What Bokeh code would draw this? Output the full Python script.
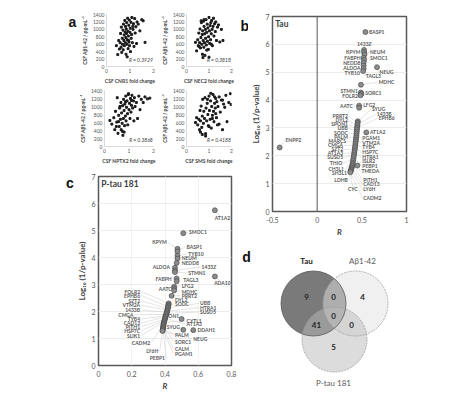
from bokeh.plotting import figure
from bokeh.layouts import row, column
from bokeh.models import Span, ColumnDataSource, FixedTicker
from bokeh.core.properties import value, field
from bokeh.embed import file_html
from bokeh.resources import INLINE

# ---------------- DATA ----------------
# panel a : four scatter plots (CSF Abeta1-42 vs protein fold change)
a_xlabels = ["CSF CNR1 fold change", "CSF NEC2 fold change",
             "CSF NPTX2 fold change", "CSF SMS fold change"]
a_rtexts = ["R = 0.3929", "R = 0.3818", "R = 0.3868", "R = 0.4188"]
a_ylabel = "CSF Aβ1-42 / pg·mL⁻¹"
a_xticks = [0, 1, 2]
a_yticks = [0, 200, 400, 600, 800, 1000, 1200, 1400]

cnr1_x = [0.42,0.48,0.52,0.55,0.58,0.6,0.62,0.63,0.65,0.67,0.68,0.7,0.71,0.72,0.74,0.75,0.76,0.78,0.79,0.8,
          0.81,0.82,0.83,0.84,0.85,0.86,0.87,0.88,0.9,0.91,0.92,0.93,0.95,0.96,0.97,0.98,1.0,1.01,1.02,1.04,
          1.05,1.07,1.08,1.1,1.12,1.13,1.15,1.17,1.2,1.22,1.25,1.28,1.3,1.35,1.42,1.5,1.56,1.64,0.88,0.94]
cnr1_y = [560,320,700,470,640,890,520,1060,380,760,600,980,450,1140,700,850,560,1240,930,640,
          1080,780,330,1010,890,1180,600,720,1300,950,480,820,1110,660,1250,560,920,1030,400,1190,
          760,860,1320,640,1080,1000,1150,540,1290,900,1070,620,1200,1140,960,1260,1230,650,260,700]

nec2_x = [0.4,0.45,0.5,0.52,0.55,0.58,0.6,0.62,0.64,0.66,0.68,0.7,0.71,0.72,0.74,0.75,0.77,0.78,0.8,0.81,
          0.82,0.84,0.85,0.87,0.88,0.9,0.92,0.93,0.95,0.97,0.98,1.0,1.02,1.03,1.05,1.07,1.08,1.1,1.12,1.14,
          1.15,1.18,1.2,1.22,1.25,1.28,1.3,1.33,1.38,1.42,1.48,1.55,1.62,0.65,0.78,0.9,1.0,1.1,0.56,0.73]
nec2_y = [650,420,720,560,900,640,1010,500,780,1180,600,860,330,960,700,1220,520,1080,640,880,
          300,1000,760,1260,580,920,1140,680,1040,460,800,1320,960,620,1100,720,1180,880,1240,1000,
          560,1080,1300,820,1150,940,1200,700,1060,1120,660,1000,700,1230,1260,440,250,600,540,240]

nptx2_x = [0.22,0.3,0.38,0.42,0.45,0.5,0.52,0.55,0.58,0.6,0.62,0.65,0.67,0.68,0.7,0.72,0.74,0.75,0.77,0.78,
           0.8,0.82,0.83,0.85,0.87,0.88,0.9,0.92,0.94,0.95,0.97,1.0,1.02,1.04,1.06,1.08,1.1,1.12,1.15,1.18,
           1.2,1.22,1.25,1.3,1.35,1.4,1.45,1.5,1.58,1.65,1.75,1.85,0.48,0.63,0.73,0.86,0.98,1.1,0.57,0.8]
nptx2_y = [650,560,720,420,880,610,1220,330,780,500,960,680,1100,420,840,580,1020,280,700,1180,
           900,520,1060,760,1260,640,980,1140,820,540,1300,920,1080,700,1200,860,1030,1280,960,1140,
           640,1220,1000,1100,700,1260,920,1180,1100,1240,1190,1210,500,1000,380,1120,1320,1150,620,360]

sms_x = [0.4,0.45,0.5,0.55,0.58,0.6,0.62,0.65,0.68,0.7,0.72,0.75,0.77,0.8,0.82,0.85,0.87,0.9,0.92,0.95,
         0.97,1.0,1.02,1.05,1.07,1.1,1.12,1.15,1.18,1.2,1.22,1.25,1.28,1.3,1.33,1.35,1.38,1.4,1.45,1.5,
         1.55,1.6,1.65,1.7,1.75,1.8,1.88,1.95,1.98,0.7,0.85,1.0,1.15,1.3,1.45,0.62,0.93,1.08,1.25,1.6]
sms_y = [600,720,540,680,420,900,640,1010,480,760,1180,580,880,700,1220,320,960,640,1080,800,
         520,1260,900,680,1140,460,1000,780,1300,880,620,1080,960,1200,720,1120,540,1000,1240,860,
         1160,420,1060,980,1280,620,1100,1320,1050,300,260,500,700,820,560,360,1180,1330,1240,1160]

# panel b : Tau
tau_genes = ["BASP1","1433Z","KPYM","NEUM","FABPH","SMOC1","NEDD8","ALDOA","TAGL3","TYB10",
             "NEUG","MDHC","STMN1","SORC1","FOLR2","AATC","LFG2","SYUG","PRRT2","1433B",
             "DYL2","EPHB6","SPON1","UBB","SODC","PGAM1","PALM","VTM2A","MARCS","TYB4",
             "CMGA","HSP7C","SZT2","HTRA1","AT1A3","SUSD5","PEBP1","THIO","TMEDA","CH3L1",
             "PITH1","SH3L1","CAD13","LDHB","LY6H","CYC","CADM2","AT1A2","ISLR2","ENPP2"]
tau_r = [0.54,0.525,0.525,0.53,0.52,0.525,0.52,0.52,0.52,0.515,
         0.67,0.49,0.49,0.495,0.485,0.47,0.47,0.455,0.453,0.451,
         0.449,0.447,0.445,0.443,0.441,0.439,0.437,0.434,0.432,0.429,
         0.427,0.424,0.421,0.418,0.415,0.412,0.409,0.405,0.402,0.398,
         0.395,0.391,0.387,0.383,0.379,0.375,0.371,0.55,0.45,-0.42]
tau_logp = [6.44,5.80,5.72,5.64,5.52,5.44,5.34,5.24,5.14,5.04,
            5.18,4.55,4.27,4.22,4.17,3.80,3.72,3.24,3.18,3.12,
            3.06,3.00,2.94,2.87,2.80,2.73,2.66,2.59,2.52,2.45,
            2.38,2.31,2.24,2.17,2.10,2.03,1.96,1.89,1.82,1.75,
            1.69,1.63,1.58,1.53,1.49,1.45,1.41,2.84,1.65,2.30]

# panel c : P-tau 181
ptau_genes = ["AT1A2","SMOC1","KPYM","BASP1","TYB10","NEUM","NEDD8","ALDOA","1433Z","STMN1",
              "FABPH","TAGL3","ADA10","LFG2","AATC","MDHC","PRRT2","FOLR2","DYL2","SODC",
              "EPHB6","UBB","SZT2","VTM2A","HTRA1","1433B","SUSD5","CMGA","TYB4","CAD13",
              "AT1A3","PITH1","HSP7C","SLIK1","CYTL1","CADM2","PALM","SORC1","LY6H","CALM",
              "PEBP1","PGAM1","NEUG","SPON1","SYUG","DDAH1"]
ptau_r = [0.70,0.51,0.475,0.475,0.475,0.475,0.47,0.46,0.46,0.46,
          0.47,0.47,0.70,0.455,0.455,0.455,0.44,0.422,0.421,0.42,
          0.419,0.417,0.416,0.414,0.413,0.411,0.409,0.407,0.405,0.403,
          0.401,0.399,0.397,0.395,0.393,0.392,0.391,0.39,0.389,0.388,
          0.387,0.386,0.385,0.50,0.51,0.57]
ptau_logp = [5.75,4.90,4.32,4.22,4.07,3.96,3.80,3.62,3.52,3.46,
             3.22,3.12,3.30,2.92,2.85,2.78,2.58,2.30,2.26,2.22,
             2.18,2.14,2.10,2.05,2.01,1.97,1.93,1.89,1.84,1.80,
             1.76,1.72,1.67,1.63,1.59,1.55,1.51,1.47,1.43,1.39,
             1.35,1.31,1.28,1.72,1.32,1.31]

# panel d : Venn counts
venn_sets = ["Tau", "Aβ1-42", "P-tau 181"]
venn_regions = ["Tau only", "Tau∩Aβ", "Aβ only", "all", "Tau∩P-tau", "Aβ∩P-tau", "P-tau only"]
venn_counts = [9, 0, 4, 0, 41, 0, 5]

# ---------------- LAYOUT / STYLE ----------------
FONT = "Lato"
TXT = "#404040"
GREY = "#595959"

tau_label_pos = {
    "BASP1": (0.581, 6.44, "left"), "1433Z": (0.527, 6.01, "center"), "KPYM": (0.485, 5.72, "right"),
    "NEUM": (0.591, 5.72, "left"), "FABPH": (0.485, 5.50, "right"), "SMOC1": (0.591, 5.50, "left"),
    "NEDD8": (0.485, 5.32, "right"), "ALDOA": (0.485, 5.14, "right"), "TYB10": (0.478, 4.96, "right"),
    "NEUG": (0.699, 5.0, "left"), "TAGL3": (0.545, 4.86, "left"), "MDHC": (0.688, 4.64, "left"),
    "STMN1": (0.455, 4.32, "right"), "FOLR2": (0.455, 4.14, "right"), "SORC1": (0.538, 4.24, "left"),
    "AATC": (0.398, 3.78, "right"), "LFG2": (0.516, 3.81, "left"), "SYUG": (0.613, 3.67, "left"),
    "PRRT2": (0.344, 3.42, "right"), "DYL2": (0.344, 3.27, "right"), "SPON1": (0.344, 3.13, "right"),
    "UBB": (0.344, 2.99, "right"), "SODC": (0.344, 2.81, "right"), "PALM": (0.344, 2.66, "right"),
    "MARCS": (0.323, 2.52, "right"), "CMGA": (0.29, 2.37, "right"), "SZT2": (0.29, 2.23, "right"),
    "AT1A3": (0.29, 2.09, "right"), "SUSD5": (0.29, 1.94, "right"), "THIO": (0.28, 1.73, "right"),
    "CH3L1": (0.30, 1.51, "right"), "SH3L1": (0.333, 1.37, "right"), "LDHB": (0.344, 1.12, "right"),
    "CYC": (0.398, 0.79, "center"), "1433B": (0.667, 3.49, "left"), "EPHB6": (0.688, 3.35, "left"),
    "AT1A2": (0.591, 2.84, "left"), "PGAM1": (0.505, 2.63, "left"), "VTM2A": (0.505, 2.45, "left"),
    "TYB4": (0.505, 2.30, "left"), "HSP7C": (0.505, 2.12, "left"), "HTRA1": (0.505, 1.94, "left"),
    "ISLR2": (0.505, 1.80, "left"), "PEBP1": (0.505, 1.62, "left"), "TMEDA": (0.495, 1.44, "left"),
    "PITH1": (0.516, 1.12, "left"), "CAD13": (0.516, 0.97, "left"), "LY6H": (0.516, 0.79, "left"),
    "CADM2": (0.516, 0.47, "left"), "ENPP2": (-0.355, 2.55, "left"),
}
ptau_label_pos = {
    "AT1A2": (0.745, 5.45, "center"), "SMOC1": (0.545, 4.93, "left"), "KPYM": (0.41, 4.56, "right"),
    "BASP1": (0.53, 4.40, "left"), "TYB10": (0.54, 4.12, "left"), "NEUM": (0.50, 3.98, "left"),
    "NEDD8": (0.50, 3.80, "left"), "1433Z": (0.62, 3.65, "left"), "ALDOA": (0.43, 3.65, "right"),
    "STMN1": (0.54, 3.43, "left"), "FABPH": (0.44, 3.20, "right"), "TAGL3": (0.51, 3.18, "left"),
    "ADA10": (0.745, 3.05, "center"), "LFG2": (0.50, 2.95, "left"), "AATC": (0.44, 2.85, "right"),
    "MDHC": (0.50, 2.74, "left"), "PRRT2": (0.50, 2.59, "left"), "DYL2": (0.46, 2.42, "left"),
    "SODC": (0.46, 2.27, "left"), "FOLR2": (0.25, 2.74, "right"), "EPHB6": (0.25, 2.59, "right"),
    "SZT2": (0.25, 2.40, "right"), "VTM2A": (0.25, 2.23, "right"), "1433B": (0.25, 2.06, "right"),
    "CMGA": (0.21, 1.88, "right"), "TYB4": (0.25, 1.72, "right"), "CAD13": (0.25, 1.57, "right"),
    "PITH1": (0.25, 1.44, "right"), "HSP7C": (0.25, 1.29, "right"), "SLIK1": (0.25, 1.11, "right"),
    "CADM2": (0.31, 0.84, "right"), "LY6H": (0.36, 0.53, "right"), "PEBP1": (0.40, 0.27, "right"),
    "UBB": (0.61, 2.30, "left"), "HTRA1": (0.61, 2.14, "left"), "SUSD5": (0.61, 1.98, "left"),
    "SPON1": (0.485, 1.84, "right"), "CYTL1": (0.53, 1.66, "left"), "AT1A3": (0.53, 1.52, "left"),
    "SYUG": (0.49, 1.42, "right"), "DDAH1": (0.595, 1.31, "left"), "PALM": (0.46, 1.13, "left"),
    "NEUG": (0.57, 0.99, "left"), "SORC1": (0.46, 0.88, "left"), "CALM": (0.46, 0.62, "left"),
    "PGAM1": (0.46, 0.44, "left"),
}

# Venn geometry in local pixel units of panel d (234 x 153)
venn_circle_pos = [(73, 90), (115, 90), (94, 54)]
venn_circle_fill = ["#7a7a7a", "#e1e1e1", "#b9b9b9"]
venn_circle_alpha = [1.0, 0.5, 0.5]
venn_set_label_pos = [(66, 133), (122, 133), (93, 11)]
venn_count_pos = [(66, 97), (93, 97), (122, 97), (93, 78), (76, 69), (111, 69), (93, 47)]


def no_ticks(ax):
    ax.major_tick_line_color = None
    ax.minor_tick_line_color = None
    ax.major_tick_out = 0
    ax.major_tick_in = 0
    ax.minor_tick_out = 0
    ax.minor_tick_in = 0


def blank(w, h):
    p = figure(width=w, height=h, x_range=(0, w), y_range=(0, h), output_backend="svg",
               toolbar_location=None, min_border=0)
    p.axis.visible = False
    p.grid.visible = False
    p.outline_line_color = None
    return p


def letter_fig(w, h, txt, x, y_from_top):
    p = blank(w, h)
    p.text(x=[x], y=[h - y_from_top], text=[txt], text_align="center", text_baseline="middle",
           text_font=value("Liberation Sans"), text_font_size=value("14px"),
           text_font_style="bold", text_color="#111111")
    return p


def small_plot(xs, ys, xlabel, rtxt, w, h, bl, br, bt, bb):
    p = figure(width=w, height=h, x_range=(0, 2), y_range=(0, 1400),
               output_backend="svg", toolbar_location=None,
               min_border_left=bl, min_border_right=br, min_border_top=bt, min_border_bottom=bb)
    p.scatter(xs, ys, size=1.9, marker="square", color="#1a1a1a")
    p.xaxis.ticker = FixedTicker(ticks=a_xticks)
    p.yaxis.ticker = FixedTicker(ticks=a_yticks)
    p.xaxis.axis_label = xlabel
    p.yaxis.axis_label = a_ylabel
    for ax in p.axis:
        ax.axis_label_text_font = FONT
        ax.axis_label_text_font_size = "5px"
        ax.axis_label_text_font_style = "bold"
        ax.axis_label_text_color = TXT
        ax.major_label_text_font = FONT
        ax.major_label_text_font_size = "5px"
        ax.major_label_text_color = GREY
        ax.axis_line_color = "#d9d9d9"
        no_ticks(ax)
        ax.major_label_standoff = 2
        ax.axis_label_standoff = 2
    p.grid.visible = False
    p.outline_line_color = None
    p.text(x=[1.97], y=[90], text=[rtxt], text_font=value(FONT), text_font_size=value("5px"),
           text_color=TXT, text_align="right", text_baseline="bottom", text_font_style="italic")
    return p


fa1 = small_plot(cnr1_x, cnr1_y, a_xlabels[0], a_rtexts[0], 80, 86, 26, 5, 14, 18)
fa2 = small_plot(nec2_x, nec2_y, a_xlabels[1], a_rtexts[1], 82, 86, 22, 9, 14, 18)
fa3 = small_plot(nptx2_x, nptx2_y, a_xlabels[2], a_rtexts[2], 158, 84, 104, 5, 4, 24)
fa4 = small_plot(sms_x, sms_y, a_xlabels[3], a_rtexts[3], 82, 84, 22, 9, 4, 24)
let_a = letter_fig(78, 86, "a", 72, 12)


def volcano(genes, rs, ps, lpos, title, w, h, xr, bl, br, bt, bb, xticks):
    p = figure(width=w, height=h, x_range=xr, y_range=(0, 7), output_backend="svg",
               toolbar_location=None, min_border_left=bl, min_border_right=br,
               min_border_top=bt, min_border_bottom=bb)
    lx, ly, la, sx, sy, ex, ey = [], [], [], [], [], [], []
    for g, r, lp in zip(genes, rs, ps):
        x, y, al = lpos[g]
        lx.append(x); ly.append(y); la.append(al)
        gap = 0.008
        if al == "right":
            tx = x + gap
        elif al == "left":
            tx = x - gap
        else:
            tx = x
        sx.append(r); sy.append(lp); ex.append(tx); ey.append(y)
    p.segment(x0=sx, y0=sy, x1=ex, y1=ey, line_color="#c8c8c8", line_width=0.5)
    src = ColumnDataSource(dict(x=lx, y=ly, t=list(genes), a=la))
    p.text(x="x", y="y", text="t", text_align=field("a"), source=src, text_baseline="middle",
           text_font=value(FONT), text_font_size=value("5px"), text_color=GREY,
           text_font_style="bold")
    p.scatter(list(rs), list(ps), size=5, fill_color="#8c8c8c", line_color="#404040",
              line_width=0.6)
    p.text(x=[xr[0] + (xr[1] - xr[0]) * 0.02], y=[6.72], text=[title], text_font=value(FONT),
           text_font_size=value("8.5px"), text_font_style="bold", text_color=TXT,
           text_baseline="middle")
    p.xaxis.ticker = FixedTicker(ticks=xticks)
    p.yaxis.ticker = FixedTicker(ticks=[0, 1, 2, 3, 4, 5, 6, 7])
    p.xaxis.axis_label = "R"
    p.yaxis.axis_label = "Log₁₀ (1/p-value)"
    for ax in p.axis:
        ax.axis_label_text_font = FONT
        ax.axis_label_text_font_size = "8px"
        ax.axis_label_text_color = TXT
        ax.major_label_text_font = FONT
        ax.major_label_text_font_size = "7px"
        ax.major_label_text_color = GREY
        ax.axis_line_color = None
        no_ticks(ax)
        ax.axis_label_standoff = 1
    p.xaxis.major_label_standoff = 5
    p.yaxis.major_label_standoff = 3
    p.xaxis.axis_label_text_font_style = "bold italic"
    p.yaxis.axis_label_text_font_style = "bold"
    p.outline_line_color = GREY
    p.outline_line_width = 1.5
    p.ygrid.grid_line_color = "#ececec"
    p.xgrid.grid_line_color = "#f2f2f2"
    return p


fb = volcano(tau_genes, tau_r, tau_logp, tau_label_pos, "Tau", 226, 240, (-0.5, 1),
             18, 68, 16, 29, [-0.5, 0, 0.5, 1])
fb.xaxis.major_label_overrides = {-0.5: "-0.5", 0: "0", 0.5: "0.5", 1: "1"}
fb.xgrid.grid_line_color = None
fb.add_layout(Span(location=0, dimension="height", line_color=GREY, line_width=1))
let_b = letter_fig(8, 240, "b", 4.3, 12)

fc = volcano(ptau_genes, ptau_r, ptau_logp, ptau_label_pos, "P-tau 181", 166, 223, (0, 0.8),
             20, 9, 6, 25, [0, 0.2, 0.4, 0.6, 0.8])
fc.xaxis.major_label_overrides = {0: "0", 0.2: "0.2", 0.4: "0.4", 0.6: "0.6", 0.8: "0.8"}
let_c = letter_fig(74, 223, "c", 69.5, 8)

# panel d: Venn
fd = blank(234, 153)
for (cx, cy), col, al in zip(venn_circle_pos, venn_circle_fill, venn_circle_alpha):
    fd.circle(x=[cx], y=[cy], radius=32.5, fill_color=col, fill_alpha=al, line_color=None)
for i, (cx, cy) in enumerate(venn_circle_pos):
    fd.circle(x=[cx], y=[cy], radius=32.5, fill_color=None,
              line_color="#595959" if i == 0 else "#9a9a9a", line_width=0.8,
              line_dash="solid" if i == 0 else "2 1")
fd.text(x=[p[0] for p in venn_count_pos], y=[p[1] for p in venn_count_pos],
        text=[str(c) for c in venn_counts], text_align="center", text_baseline="middle",
        text_font=value(FONT), text_font_size=value("8px"), text_font_style="bold",
        text_color="#262626")
fd.text(x=[venn_set_label_pos[0][0]], y=[venn_set_label_pos[0][1]], text=[venn_sets[0]],
        text_align="center", text_baseline="middle", text_font=value(FONT),
        text_font_size=value("8px"), text_font_style="bold", text_color="#262626")
fd.text(x=[p[0] for p in venn_set_label_pos[1:]], y=[p[1] for p in venn_set_label_pos[1:]],
        text=venn_sets[1:], text_align="center", text_baseline="middle", text_font=value(FONT),
        text_font_size=value("8px"), text_color=GREY)
fd.text(x=[6], y=[137], text=["d"], text_align="center", text_baseline="middle",
        text_font=value("Liberation Sans"), text_font_size=value("14px"),
        text_font_style="bold", text_color="#111111")

left = column(row(let_a, fa1, fa2), row(fa3, fa4), row(let_c, fc))
right = column(row(let_b, fb), row(fd))
root = row(left, right)

open("out.html", "w").write(file_html(root, INLINE))
